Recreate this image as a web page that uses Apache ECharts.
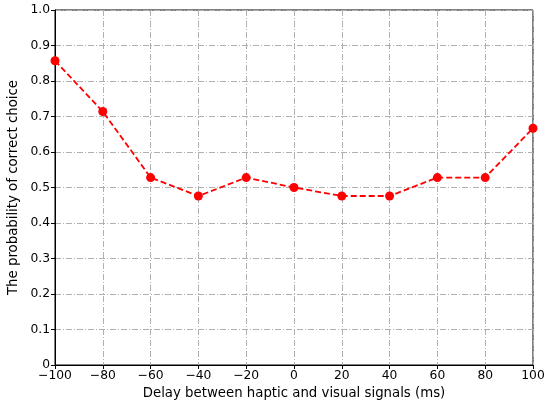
<!DOCTYPE html>
<html><head><meta charset="utf-8">
<script src="https://cdn.jsdelivr.net/npm/echarts@6/dist/echarts.min.js"></script>
<style>html,body{margin:0;padding:0;background:#fff}#c{width:550px;height:411px}</style>
</head><body><div id="c"></div>
<script>
var delays = [-100, -80, -60, -40, -20, 0, 20, 40, 60, 80, 100];
var probability = [0.857, 0.714, 0.528, 0.476, 0.528, 0.5, 0.476, 0.476, 0.528, 0.528, 0.667];
var xTitle = 'Delay between haptic and visual signals (ms)';
var yTitle = 'The probability of correct choice';

var chart = echarts.init(document.getElementById('c'), null, {renderer: 'canvas'});
var font = 'DejaVu Sans';
var gridLine = {show: true, lineStyle: {color: '#b0b0b0', width: 1, type: [6, 2, 1, 2]}};
chart.setOption({
  animation: false,
  grid: {left: 55, right: 17, top: 10, bottom: 46, containLabel: false, outerBoundsMode: 'none',
         show: true, borderColor: '#000', borderWidth: 1, backgroundColor: 'transparent'},
  xAxis: {
    type: 'value', min: -100, max: 100, interval: 20,
    name: xTitle, nameLocation: 'middle', nameGap: 22,
    nameTextStyle: {fontFamily: font, fontSize: 13.3, color: '#000', verticalAlign: 'top'},
    axisLine: {show: true, onZero: false, lineStyle: {color: '#000', width: 1}},
    axisTick: {show: true, length: 4, lineStyle: {color: '#000'}},
    axisLabel: {fontFamily: font, fontSize: 12.3, color: '#000', margin: 5,
      formatter: function(v){ return v < 0 ? '\u2212' + Math.abs(v) : String(v); }},
    splitLine: gridLine
  },
  yAxis: {
    type: 'value', min: 0, max: 1, interval: 0.1,
    name: yTitle, nameLocation: 'middle', nameGap: 35,
    nameTextStyle: {fontFamily: font, fontSize: 13.3, color: '#000'},
    axisLine: {show: true, onZero: false, lineStyle: {color: '#000', width: 1}},
    axisTick: {show: true, length: 4, lineStyle: {color: '#000'}},
    axisLabel: {fontFamily: font, fontSize: 12.3, color: '#000', margin: 5,
      formatter: function(v){ return v === 0 ? '0' : v.toFixed(1); }},
    splitLine: gridLine
  },
  series: [{
    type: 'line',
    data: delays.map(function(d, i){ return [d, probability[i]]; }),
    symbol: 'circle', symbolSize: 9,
    itemStyle: {color: '#ff0000'},
    lineStyle: {color: '#ff0000', width: 1.8, type: [6, 3]},
    clip: false
  }]
});
</script></body></html>
